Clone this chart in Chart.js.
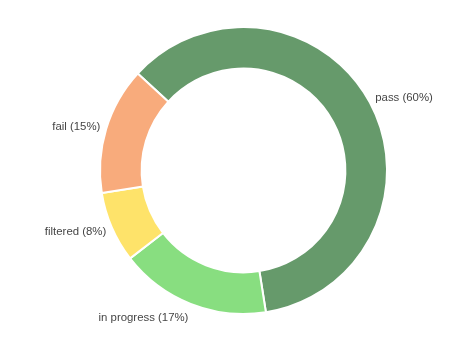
<!DOCTYPE html>
<html>
<head>
<meta charset="utf-8">
<script src="https://cdn.jsdelivr.net/npm/chart.js@4/dist/chart.umd.min.js"></script>
<style>
  html, body { margin: 0; padding: 0; background: #fff; }
  #wrap { width: 474px; height: 355px; }
</style>
</head>
<body>
<div id="wrap"><canvas id="c" width="474" height="355"></canvas></div>
<script>
const categories = ["pass", "in progress", "filtered", "fail"];
// slice sizes as read from the drawn arcs
const values = [60.7, 17, 8, 14.3];
// percentages as printed in the labels
const pctLabels = [60, 17, 8, 15];

const outLabels = {
  id: 'outLabels',
  afterDatasetsDraw(chart) {
    const ctx = chart.ctx;
    const meta = chart.getDatasetMeta(0);
    ctx.save();
    ctx.font = '11.4px "Liberation Sans", Arial, sans-serif';
    ctx.fillStyle = '#454545';
    ctx.textBaseline = 'middle';
    meta.data.forEach((arc, i) => {
      const p = arc.getProps(['x', 'y', 'startAngle', 'endAngle', 'outerRadius'], true);
      const mid = (p.startAngle + p.endAngle) / 2;
      const vx = Math.cos(mid), vy = Math.sin(mid);
      const r = p.outerRadius + 6;
      const x = p.x + vx * r;
      const y = p.y + vy * r + 10 * vy * Math.abs(vy);
      ctx.textAlign = vx >= 0 ? 'left' : 'right';
      ctx.fillText(chart.data.labels[i] + ' (' + pctLabels[i] + '%)', x, y);
    });
    ctx.restore();
  }
};

new Chart(document.getElementById('c'), {
  type: 'doughnut',
  data: {
    labels: categories,
    datasets: [{
      data: values,
      backgroundColor: ['#669a6b', '#88de80', '#fee36a', '#f8ab7c'],
      borderColor: '#ffffff',
      borderWidth: 2,
      hoverOffset: 0
    }]
  },
  options: {
    responsive: false,
    animation: false,
    rotation: -47.5,
    cutout: '71%',
    layout: { padding: { top: 26, bottom: 40, left: 33, right: 20 } },
    plugins: {
      legend: { display: false },
      tooltip: { enabled: false }
    }
  },
  plugins: [outLabels]
});
</script>
</body>
</html>
